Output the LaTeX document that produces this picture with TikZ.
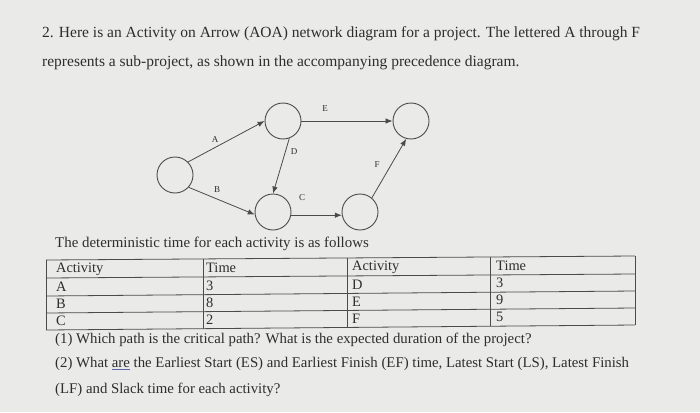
\documentclass[tikz,border=0pt]{standalone}
\usepackage{fontspec}
\setmainfont{Liberation Serif}
\usetikzlibrary{arrows.meta}
\definecolor{bg}{RGB}{234,234,232}
\definecolor{ink}{RGB}{45,45,45}
\definecolor{lineg}{RGB}{75,75,75}
\definecolor{spell}{RGB}{90,100,170}
\begin{document}
\begin{tikzpicture}[x=1pt,y=-1pt,
  ev/.style={circle,draw=lineg,line width=0.9pt,minimum size=36pt,inner sep=0pt},
  act/.style={-{Latex[length=7pt,width=5.5pt]},draw=lineg,line width=0.8pt},
  lbl/.style={font=\fontsize{9}{10}\selectfont,text=ink,inner sep=0pt},
  txt/.style={anchor=west,font=\fontsize{15.5}{17}\selectfont,text=ink,inner sep=0pt},
  dtxt/.style={anchor=west,font=\fontsize{14.9}{16}\selectfont,text=ink,inner sep=0pt},
  qtxt/.style={anchor=west,font=\fontsize{14.8}{16}\selectfont,text=ink,inner sep=0pt},
  cell/.style={anchor=west,font=\fontsize{14.4}{15}\selectfont,text=ink,inner sep=0pt},
  grid/.style={draw=lineg,line width=0.8pt}
]
\fill[bg] (0,0) rectangle (700,412);
\node[txt] (t1) at (42,34) {2. Here is an Activity on Arrow (AOA) network diagram for a project. The lettered A through F};
\node[txt] (t2) at (42,63) {represents a sub-project, as shown in the accompanying precedence diagram.};
% network
\node[ev] (n1) at (175,175) {};
\node[ev] (n2) at (283,121) {};
\node[ev] (n3) at (411,121) {};
\node[ev] (n4) at (273,212) {};
\node[ev] (n5) at (360,212) {};
\draw[act] (n1.45) -- (n2.west);
\draw[act] (n1.-42) -- (n4.188);
\draw[act] (n2.-70) -- (n4.north);
\draw[act] (n2) -- (n3);
\draw[act] (n4.-10) -- (n5.190);
\draw[act] (n5.50) -- (n3.-105);
\node[lbl] (la) at (215,140) {A};
\node[lbl] (lb) at (217,190) {B};
\node[lbl] (ld) at (294,152) {D};
\node[lbl] (le) at (325,109) {E};
\node[lbl] (lc) at (302,198) {C};
\node[lbl] (lf) at (377,165) {F};
\node[dtxt] (t3) at (55,244) {The deterministic time for each activity is as follows};
% table (slightly skewed like the photographed page)
\draw[grid] (46,260) -- (635,256);
\draw[grid] (46,278) -- (635,274);
\draw[grid] (46,296) -- (635,291);
\draw[grid] (46,313) -- (635,308);
\draw[grid] (46,330) -- (635,325);
\draw[grid] (46,260) -- (46,330);
\draw[grid] (203,259) -- (203,329);
\draw[grid] (347,258) -- (347,328);
\draw[grid] (490,257) -- (490,326);
\draw[grid] (635,256) -- (635,325);
\node[cell] (h1) at (56,269) {Activity};
\node[cell] (h2) at (206,268) {Time};
\node[cell] (h3) at (352,267) {Activity};
\node[cell] (h4) at (496,266) {Time};
\node[cell] (a1) at (56,287) {A};
\node[cell] (a2) at (206,286) {3};
\node[cell] (a3) at (352,285) {D};
\node[cell] (a4) at (496,283) {3};
\node[cell] (b1) at (56,304) {B};
\node[cell] (b2) at (206,303) {8};
\node[cell] (b3) at (352,302) {E};
\node[cell] (b4) at (496,300) {9};
\node[cell] (c1) at (56,321) {C};
\node[cell] (c2) at (206,320) {2};
\node[cell] (c3) at (352,319) {F};
\node[cell] (c4) at (496,317) {5};
\node[qtxt] (q1) at (55,340) {(1) Which path is the critical path? What is the expected duration of the project?};
\node[qtxt] (q2) at (55,364) {(2) What {\color{spell}\underline{\textcolor{ink}{are}}} the Earliest Start (ES) and Earliest Finish (EF) time, Latest Start (LS), Latest Finish};
\node[qtxt] (q3) at (55,390) {(LF) and Slack time for each activity?};
\end{tikzpicture}
\end{document}
